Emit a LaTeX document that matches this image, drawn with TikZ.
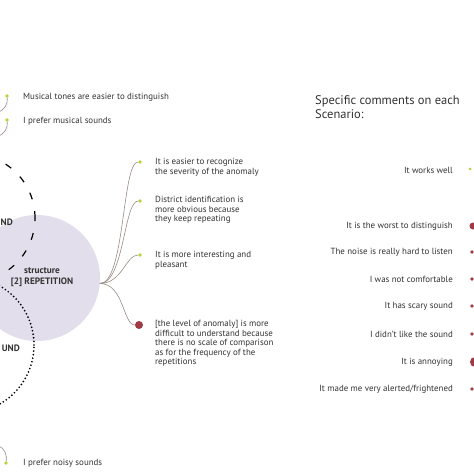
\documentclass[tikz,border=0pt]{standalone}
\usepackage{fontspec}
\setmainfont{PT Sans}
\usepackage{tikz}
\usetikzlibrary{positioning}
\definecolor{lavender}{RGB}{226,222,236}
\definecolor{dotgreen}{RGB}{188,208,58}
\definecolor{dotred}{RGB}{160,58,68}
\definecolor{textgray}{RGB}{50,50,50}
\definecolor{linegray}{RGB}{150,140,132}

\begin{document}
\begin{tikzpicture}[x=1pt, y=-1pt,
    comment/.style={anchor=west, align=left, inner sep=0pt, text=textgray, font=\fontsize{8.9}{9.6}\selectfont},
    block/.style={anchor=north west, align=left, inner sep=0pt, text=textgray, font=\fontsize{8.9}{9.6}\selectfont},
    rcomment/.style={anchor=east, inner sep=0pt, text=textgray, font=\fontsize{8.9}{9.6}\selectfont},
    gdot/.style={circle, fill=dotgreen, inner sep=0pt, minimum size=3.6pt},
    rdot/.style={circle, fill=dotred, inner sep=0pt, minimum size=3.6pt},
    fanline/.style={draw=linegray, line width=0.6pt},
    title/.style={font=\bfseries\fontsize{9.3}{10.5}\selectfont, text=black!80, inner sep=0pt}
]
\useasboundingbox (0,0) rectangle (474,474);
\clip (0,0) rectangle (474,474);

\node[circle, fill=lavender, minimum size=126pt, inner sep=0pt] (rep) at (37,278) {};
\node[title, align=center] (reptext) at (42,277) {structure\\{[2]} REPETITION};
\draw[dashed, line width=1.2pt, dash pattern=on 7pt off 12pt] (-29,218) circle (64pt);
\draw[line width=1.9pt, line cap=round, dash pattern=on 0pt off 3.6pt] (-34,345) circle (68pt);
\node[title, anchor=east] (nd) at (13,222) {ND};
\node[title, anchor=east] (und) at (20,348) {UND};

\node[gdot] (tones) at (7,96) {};
\node[gdot] (prefmus) at (7,120) {};
\node[gdot] (prefnoisy) at (6,463) {};
\coordinate (tonesin) at (-2,112);
\coordinate (prefmusin) at (-2,136);
\coordinate (prefnoisyin) at (-2,446);
\draw[fanline] (tonesin) .. controls (5,110) and (8,103) .. (tones);
\draw[fanline] (prefmusin) .. controls (5,134) and (8,127) .. (prefmus);
\draw[fanline] (prefnoisyin) .. controls (5,448) and (7,455) .. (prefnoisy);
\node[comment] (tonestext) at (23,97) {Musical tones are easier to distinguish};
\node[comment] (prefmustext) at (23,121) {I prefer musical sounds};
\node[comment] (prefnoisytext) at (23,463) {I prefer noisy sounds};

\coordinate (hub) at (rep.355);
\node[gdot] (recog) at (140,162) {};
\node[gdot] (district) at (140,201) {};
\node[gdot] (interest) at (140,255) {};
\node[rdot, minimum size=8pt] (anomaly) at (139,325) {};
\draw[fanline] (hub) .. controls +(25,0) and +(-18,0) .. (recog);
\draw[fanline] (hub) .. controls +(24,0) and +(-16,0) .. (district);
\draw[fanline] (hub) .. controls +(22,0) and +(-14,0) .. (interest);
\draw[fanline] (hub) .. controls +(24,0) and +(-16,0) .. (anomaly);
\node[block] (recogtext) at (155,158) {It is easier to recognize\\the severity of the anomaly};
\node[block] (districttext) at (155,196) {District identification is\\more obvious because\\they keep repeating};
\node[block] (interesttext) at (155,251) {It is more interesting and\\pleasant};
\node[block] (anomalytext) at (155,320) {[the level of anomaly] is more\\difficult to understand because\\there is no scale of comparison\\as for the frequency of the\\repetitions};

\node[anchor=north west, align=left, inner sep=0pt, text=textgray, font=\fontsize{12.5}{14}\selectfont] (heading) at (315,95) {Specific comments on each\\Scenario:};

\node[rcomment] (works) at (453,170) {It works well};
\node[rcomment] (worst) at (453,226) {It is the worst to distinguish};
\node[rcomment] (noise) at (453,252) {The noise is really hard to listen};
\node[rcomment] (comfort) at (453,279) {I was not comfortable};
\node[rcomment] (scary) at (453,306) {It has scary sound};
\node[rcomment] (dislike) at (453,334) {I didn't like the sound};
\node[rcomment] (annoying) at (453,362) {It is annoying};
\node[rcomment] (alerted) at (453,389) {It made me very alerted/frightened};
\node[gdot, minimum size=3pt] (worksdot) at (470,169) {};
\node[rdot, minimum size=7pt] (worstdot) at (473,226) {};
\node[rdot] (noisedot) at (472,252) {};
\node[rdot] (comfortdot) at (472,279) {};
\node[rdot] (scarydot) at (472,306) {};
\node[rdot] (dislikedot) at (472,334) {};
\node[rdot, minimum size=10pt] (annoyingdot) at (475,362) {};
\node[rdot] (alerteddot) at (472,389) {};

\end{tikzpicture}
\end{document}
